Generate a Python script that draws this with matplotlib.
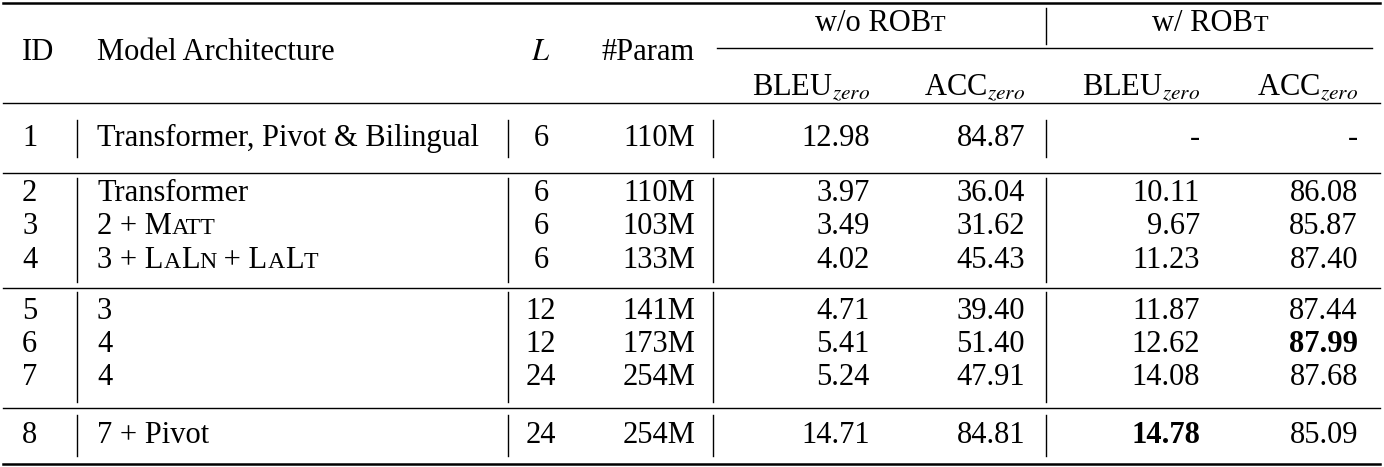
import matplotlib
matplotlib.use("Agg")
import matplotlib.pyplot as plt

plt.rcParams['font.family'] = ['Liberation Serif', 'DejaVu Serif']
plt.rcParams['mathtext.fontset'] = 'stix'

ids = ["1", "2", "3", "4", "5", "6", "7", "8"]
archs = [[("Transformer, Pivot & Bilingual", 1)],
         [("Transformer", 1)],
         [("2 + M", 1), ("ATT", 0.78)],
         [("3 + L", 1), ("A", 0.78), ("L", 1), ("N", 0.78), (" + L", 1), ("A", 0.78), ("L", 1), ("T", 0.78)],
         [("3", 1)], [("4", 1)], [("4", 1)], [("7 + Pivot", 1)]]
layers = ["6", "6", "6", "6", "12", "12", "24", "24"]
params = ["110M", "110M", "103M", "133M", "141M", "173M", "254M", "254M"]
bleu_wo = ["12.98", "3.97", "3.49", "4.02", "4.71", "5.41", "5.24", "14.71"]
acc_wo = ["84.87", "36.04", "31.62", "45.43", "39.40", "51.40", "47.91", "84.81"]
bleu_w = ["-", "10.11", "9.67", "11.23", "11.87", "12.62", "14.08", "14.78"]
acc_w = ["-", "86.08", "85.87", "87.40", "87.44", "87.99", "87.68", "85.09"]
bold = {("bleu_w", 7), ("acc_w", 5)}

W, H = 1384, 467
fig = plt.figure(figsize=(W/100, H/100), dpi=100)
ax = fig.add_axes([0, 0, 1, 1])
ax.set_xlim(0, W); ax.set_ylim(H, 0); ax.axis('off')
FS = 22
fig.canvas.draw()
r = fig.canvas.get_renderer()

def seq(x, y, segs):
    for t, s in segs:
        tx = ax.text(x, y, t, fontsize=FS*s, va='baseline', ha='left')
        bb = tx.get_window_extent(renderer=r)
        x += bb.width
    return x

def seq_width(segs):
    w = 0
    for t, s in segs:
        tx = ax.text(0, 0, t, fontsize=FS*s)
        w += tx.get_window_extent(renderer=r).width
        tx.remove()
    return w

# rules
ax.plot([3, 1380], [3, 3], color='k', lw=1.8)
ax.plot([3, 1380], [464, 464], color='k', lw=1.8)
for y in [103, 173, 288, 408]:
    ax.plot([3, 1380], [y, y], color='k', lw=1.0)
ax.plot([717, 1372], [48, 48], color='k', lw=1.0)
ax.plot([1046, 1046], [8, 44], color='k', lw=1.0)

# header
ax.text(22, 52, "ID", fontsize=FS, va='center')
ax.text(97, 52, "Model Architecture", fontsize=FS, va='center')
ax.text(541, 52, "$L$", fontsize=FS, va='center', ha='center')
ax.text(695, 52, "#Param", fontsize=FS, va='center', ha='right')
for cx, lab in [(880, [("w/o ROB", 1), ("T", 0.78)]), (1210, [("w/ ROB", 1), ("T", 0.78)])]:
    seq(cx - seq_width(lab)/2, 31, lab)
for xr, lab in [(870, r"BLEU$_{zero}$"), (1025, r"ACC$_{zero}$"),
                (1200, r"BLEU$_{zero}$"), (1358, r"ACC$_{zero}$")]:
    ax.text(xr, 95, lab, fontsize=FS, va='baseline', ha='right')

rows_y = [146, 201, 234, 268, 319, 352, 385, 443]
groups = [(120, 157), (178, 282), (292, 402), (415, 456)]
for y0, y1 in groups:
    for x in [77, 508, 713, 1046]:
        ax.plot([x, x], [y0, y1], color='k', lw=1.0)

for i, y in enumerate(rows_y):
    ax.text(22, y, ids[i], fontsize=FS, va='baseline')
    seq(97, y, archs[i])
    ax.text(541, y, layers[i], fontsize=FS, va='baseline', ha='center')
    ax.text(695, y, params[i], fontsize=FS, va='baseline', ha='right')
    for key, vals, xr in [("bleu_wo", bleu_wo, 870), ("acc_wo", acc_wo, 1025),
                          ("bleu_w", bleu_w, 1200), ("acc_w", acc_w, 1358)]:
        ax.text(xr, y, vals[i], fontsize=FS, va='baseline', ha='right',
                fontweight='bold' if (key, i) in bold else 'normal')

fig.savefig("out.png", dpi=100)
